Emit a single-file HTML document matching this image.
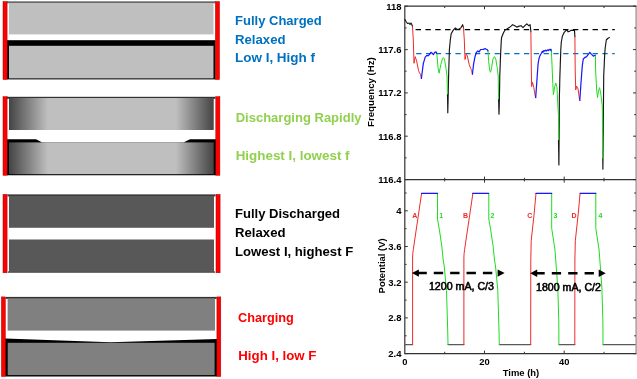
<!DOCTYPE html>
<html><head><meta charset="utf-8"><title>Battery frequency figure</title>
<style>
html,body{margin:0;padding:0;background:#fff}
svg{display:block}
text{font-family:"Liberation Sans",Arial,sans-serif;font-weight:bold}
</style></head><body>
<svg width="637" height="379" viewBox="0 0 637 379">
<defs>
<linearGradient id="g2" x1="0" x2="1" y1="0" y2="0">
<stop offset="0" stop-color="#444"/><stop offset="0.19" stop-color="#bfbfbf"/>
<stop offset="0.815" stop-color="#bfbfbf"/><stop offset="1" stop-color="#444"/>
</linearGradient>
<filter id="soft" x="0" y="0" width="637" height="379" filterUnits="userSpaceOnUse"><feGaussianBlur stdDeviation="0.45"/></filter>
</defs>
<rect width="637" height="379" fill="#fff"/>
<g filter="url(#soft)">

<g id="d1">
<rect x="7" y="1.3" width="208.5" height="2" fill="#6a6a6a"/>
<rect x="9" y="3" width="204.5" height="31.4" fill="#bfbfbf"/>
<rect x="7" y="40.2" width="208.5" height="39.2" fill="#000"/>
<rect x="9" y="45.8" width="204.5" height="32.6" fill="#bfbfbf"/>
<rect x="3" y="1.6" width="4.1" height="78" fill="#f00" stroke="#a00000" stroke-width="0.5"/>
<rect x="215.4" y="1.6" width="4.1" height="78" fill="#f00" stroke="#a00000" stroke-width="0.5"/>
</g>
<g id="d2">
<rect x="7" y="96.8" width="208.5" height="2" fill="#333"/>
<rect x="9" y="98" width="204.7" height="32" fill="url(#g2)"/>
<polygon points="7,139.2 36,139.2 42.3,142.6 183.4,142.6 190,139.2 216,139.2 216,175.2 7,175.2" fill="#000"/>
<rect x="9" y="142.4" width="204.7" height="31.8" fill="url(#g2)"/>
<rect x="3" y="96.7" width="4.1" height="78.6" fill="#f00" stroke="#a00000" stroke-width="0.5"/>
<rect x="215.8" y="96.7" width="4.1" height="78.6" fill="#f00" stroke="#a00000" stroke-width="0.5"/>
</g>
<g id="d3">
<rect x="7.5" y="194.4" width="208" height="2" fill="#333"/>
<rect x="9" y="195.8" width="205" height="32" fill="#595959"/>
<rect x="9" y="239.5" width="205" height="32.2" fill="#595959"/>
<rect x="8" y="271.4" width="207" height="1.3" fill="#333"/>
<rect x="3" y="194.4" width="4.1" height="78.4" fill="#f00" stroke="#a00000" stroke-width="0.5"/>
<rect x="216" y="194.4" width="4.1" height="78.4" fill="#f00" stroke="#a00000" stroke-width="0.5"/>
</g>
<g id="d4">
<rect x="5.7" y="296.9" width="211" height="2" fill="#333"/>
<rect x="7.6" y="298.4" width="207.4" height="32.2" fill="#808080"/>
<polygon points="5.1,338.4 110.4,342.2 217.2,338.9 217.2,376.4 5.1,376.4" fill="#000"/>
<rect x="7.7" y="342.8" width="206.9" height="32.3" fill="#808080"/>
<rect x="1.4" y="296.9" width="3.9" height="79.6" fill="#f00" stroke="#a00000" stroke-width="0.5"/>
<rect x="216.9" y="296.9" width="3.9" height="79.6" fill="#f00" stroke="#a00000" stroke-width="0.5"/>
</g>
<text x="235" y="24.9" font-size="12" fill="#0070c0" textLength="86.8" lengthAdjust="spacingAndGlyphs">Fully Charged</text>
<text x="235" y="43.9" font-size="12" fill="#0070c0" textLength="50.5" lengthAdjust="spacingAndGlyphs">Relaxed</text>
<text x="235" y="62.2" font-size="12" fill="#0070c0" textLength="80" lengthAdjust="spacingAndGlyphs">Low I, High f</text>
<text x="235.7" y="121.8" font-size="12" fill="#92d050" textLength="125.8" lengthAdjust="spacingAndGlyphs">Discharging Rapidly</text>
<text x="235.7" y="159.6" font-size="12" fill="#92d050" textLength="113.9" lengthAdjust="spacingAndGlyphs">Highest I, lowest f</text>
<text x="235" y="218" font-size="12" fill="#000" textLength="105.1" lengthAdjust="spacingAndGlyphs">Fully Discharged</text>
<text x="235" y="237" font-size="12" fill="#000" textLength="50.5" lengthAdjust="spacingAndGlyphs">Relaxed</text>
<text x="235" y="256" font-size="12" fill="#000" textLength="118.2" lengthAdjust="spacingAndGlyphs">Lowest I, highest F</text>
<text x="238" y="322.2" font-size="12" fill="#f00" textLength="55.8" lengthAdjust="spacingAndGlyphs">Charging</text>
<text x="238.3" y="360.2" font-size="12" fill="#f00" textLength="78.1" lengthAdjust="spacingAndGlyphs">High I, low F</text>
<g id="axes" stroke="#333" stroke-width="1.2" fill="none">
<rect x="635.3" y="5.6000000000000005" width="1.7" height="348.6" fill="#ababab" stroke="none"/>
<polyline points="636.3,6.2 404.8,6.2 404.8,353.6 636.3,353.6"/>
<line x1="404.8" x2="636.0" y1="179.6" y2="179.6"/>
</g>
<g id="ticks" stroke="#333" stroke-width="1" fill="none">
<line x1="444.7" x2="444.7" y1="6.2" y2="8.0"/>
<line x1="444.7" x2="444.7" y1="177.79999999999998" y2="181.4"/>
<line x1="444.7" x2="444.7" y1="351.8" y2="353.6"/>
<line x1="484.5" x2="484.5" y1="6.2" y2="9.2"/>
<line x1="484.5" x2="484.5" y1="176.6" y2="182.6"/>
<line x1="484.5" x2="484.5" y1="350.6" y2="353.6"/>
<line x1="524.4" x2="524.4" y1="6.2" y2="8.0"/>
<line x1="524.4" x2="524.4" y1="177.79999999999998" y2="181.4"/>
<line x1="524.4" x2="524.4" y1="351.8" y2="353.6"/>
<line x1="564.2" x2="564.2" y1="6.2" y2="9.2"/>
<line x1="564.2" x2="564.2" y1="176.6" y2="182.6"/>
<line x1="564.2" x2="564.2" y1="350.6" y2="353.6"/>
<line x1="604.0" x2="604.0" y1="6.2" y2="8.0"/>
<line x1="604.0" x2="604.0" y1="177.79999999999998" y2="181.4"/>
<line x1="604.0" x2="604.0" y1="351.8" y2="353.6"/>
<line x1="404.8" x2="407.8" y1="6.2" y2="6.2"/>
<line x1="633.0" x2="636.0" y1="6.2" y2="6.2"/>
<line x1="404.8" x2="406.6" y1="27.9" y2="27.9"/>
<line x1="634.2" x2="636.0" y1="27.9" y2="27.9"/>
<line x1="404.8" x2="407.8" y1="49.6" y2="49.6"/>
<line x1="633.0" x2="636.0" y1="49.6" y2="49.6"/>
<line x1="404.8" x2="406.6" y1="71.2" y2="71.2"/>
<line x1="634.2" x2="636.0" y1="71.2" y2="71.2"/>
<line x1="404.8" x2="407.8" y1="92.9" y2="92.9"/>
<line x1="633.0" x2="636.0" y1="92.9" y2="92.9"/>
<line x1="404.8" x2="406.6" y1="114.6" y2="114.6"/>
<line x1="634.2" x2="636.0" y1="114.6" y2="114.6"/>
<line x1="404.8" x2="407.8" y1="136.2" y2="136.2"/>
<line x1="633.0" x2="636.0" y1="136.2" y2="136.2"/>
<line x1="404.8" x2="406.6" y1="157.9" y2="157.9"/>
<line x1="634.2" x2="636.0" y1="157.9" y2="157.9"/>
<line x1="404.8" x2="407.8" y1="179.6" y2="179.6"/>
<line x1="633.0" x2="636.0" y1="179.6" y2="179.6"/>
<line x1="404.8" x2="406.6" y1="193.0" y2="193.0"/>
<line x1="634.2" x2="636.0" y1="193.0" y2="193.0"/>
<line x1="404.8" x2="407.8" y1="210.8" y2="210.8"/>
<line x1="633.0" x2="636.0" y1="210.8" y2="210.8"/>
<line x1="404.8" x2="406.6" y1="228.7" y2="228.7"/>
<line x1="634.2" x2="636.0" y1="228.7" y2="228.7"/>
<line x1="404.8" x2="407.8" y1="246.5" y2="246.5"/>
<line x1="633.0" x2="636.0" y1="246.5" y2="246.5"/>
<line x1="404.8" x2="406.6" y1="264.4" y2="264.4"/>
<line x1="634.2" x2="636.0" y1="264.4" y2="264.4"/>
<line x1="404.8" x2="407.8" y1="282.2" y2="282.2"/>
<line x1="633.0" x2="636.0" y1="282.2" y2="282.2"/>
<line x1="404.8" x2="406.6" y1="300.1" y2="300.1"/>
<line x1="634.2" x2="636.0" y1="300.1" y2="300.1"/>
<line x1="404.8" x2="407.8" y1="317.9" y2="317.9"/>
<line x1="633.0" x2="636.0" y1="317.9" y2="317.9"/>
<line x1="404.8" x2="406.6" y1="335.8" y2="335.8"/>
<line x1="634.2" x2="636.0" y1="335.8" y2="335.8"/>
<line x1="404.8" x2="407.8" y1="353.6" y2="353.6"/>
<line x1="633.0" x2="636.0" y1="353.6" y2="353.6"/>
</g>
<g font-size="9.5" fill="#000" text-anchor="end">
<text x="401.5" y="9.5">118</text>
<text x="401.5" y="52.9">117.6</text>
<text x="401.5" y="96.2">117.2</text>
<text x="401.5" y="139.6">116.8</text>
<text x="401.5" y="182.9">116.4</text>
<text x="401.5" y="214.1">4</text>
<text x="401.5" y="249.8">3.6</text>
<text x="401.5" y="285.5">3.2</text>
<text x="401.5" y="321.2">2.8</text>
<text x="401.5" y="356.9">2.4</text>
</g>
<g font-size="9.4" fill="#000" text-anchor="middle">
<text x="404.8" y="365.3">0</text>
<text x="484.5" y="365.3">20</text>
<text x="564.2" y="365.3">40</text>
</g>
<text x="502.7" y="376.1" font-size="9.4" fill="#000" textLength="36.5" lengthAdjust="spacingAndGlyphs">Time (h)</text>
<text transform="translate(374.1,126.9) rotate(-90)" font-size="9.6" fill="#000" textLength="69.7" lengthAdjust="spacingAndGlyphs">Frequency (Hz)</text>
<text transform="translate(384.7,293.4) rotate(-90)" font-size="9.4" fill="#000" textLength="55" lengthAdjust="spacingAndGlyphs">Potential (V)</text>
<line x1="415.6" x2="614.8" y1="29.6" y2="29.6" stroke="#000" stroke-width="1.45" stroke-dasharray="5.4 4.43"/>
<line x1="416.2" x2="614.7" y1="53.6" y2="53.6" stroke="#0070c0" stroke-width="1.35" stroke-dasharray="5.3 4.5"/>
<g id="freq">
<polyline points="405.0,19.5 406.0,21.5 407.5,23.5 409.0,23.0 410.0,24.5 411.0,23.0 412.0,25.0 412.5,26.5" fill="none" stroke="#151515" stroke-width="1.15" stroke-linejoin="round" stroke-linecap="round"/>
<polyline points="447.5,94.0 447.8,112.8 448.6,76.0 449.4,49.5 450.3,40.0 451.2,33.7 453.1,30.4 455.4,28.0 456.9,29.5 459.2,29.0 461.1,27.6 462.6,24.7 463.5,27.6" fill="none" stroke="#151515" stroke-width="1.15" stroke-linejoin="round" stroke-linecap="round"/>
<polyline points="498.6,99.0 499.0,114.2 499.4,99.0 499.8,76.0 500.6,54.2 501.2,42.0 501.6,37.5 503.5,32.8 505.0,29.9 506.9,29.0 509.2,27.6 511.1,26.1 512.6,24.7 514.9,25.7 516.8,27.1 519.2,26.1 521.1,25.7 523.0,27.6 524.9,25.7 526.8,23.8 528.7,25.7 530.1,24.7 530.9,31.8" fill="none" stroke="#151515" stroke-width="1.15" stroke-linejoin="round" stroke-linecap="round"/>
<polyline points="558.5,139.7 558.9,164.9 559.4,96.0 559.9,76.0 560.8,49.5 561.3,42.0 562.3,36.6 564.2,32.3 566.1,30.4 567.1,29.9 568.0,31.8 569.5,31.4 570.9,30.4 572.8,30.4 574.5,30.4 574.9,36.6" fill="none" stroke="#151515" stroke-width="1.15" stroke-linejoin="round" stroke-linecap="round"/>
<polyline points="602.7,150.0 602.9,169.2 603.7,76.0 604.7,54.2 605.2,48.0 606.3,40.0 607.7,38.5 609.4,37.6" fill="none" stroke="#151515" stroke-width="1.15" stroke-linejoin="round" stroke-linecap="round"/>
<polyline points="412.5,26.5 413.3,40.0 414.0,63.3 415.2,56.6 416.6,60.9 418.5,70.4 419.5,72.8 420.4,74.2 421.4,78.5" fill="none" stroke="#ee2a2a" stroke-width="1.0" stroke-linejoin="round" stroke-linecap="round"/>
<polyline points="463.5,27.6 464.3,40.0 465.0,59.5 466.2,54.2 467.3,55.7 469.2,64.7 470.7,68.5 471.6,70.4 472.4,74.2" fill="none" stroke="#ee2a2a" stroke-width="1.0" stroke-linejoin="round" stroke-linecap="round"/>
<polyline points="530.9,31.8 531.2,60.0 531.6,86.6 532.5,82.3 533.8,87.5 535.2,96.0 535.7,97.6" fill="none" stroke="#ee2a2a" stroke-width="1.0" stroke-linejoin="round" stroke-linecap="round"/>
<polyline points="574.9,36.6 575.2,70.0 575.7,90.0 576.6,86.1 578.1,89.0 579.5,99.4 579.8,100.4" fill="none" stroke="#ee2a2a" stroke-width="1.0" stroke-linejoin="round" stroke-linecap="round"/>
<polyline points="436.8,53.3 438.0,67.5 439.1,73.2 440.8,64.7 442.3,59.0 443.5,57.6 444.6,59.9 446.0,68.5 447.0,76.0 447.5,94.0" fill="none" stroke="#1fdc1f" stroke-width="1.0" stroke-linejoin="round" stroke-linecap="round"/>
<polyline points="488.0,50.9 488.7,61.8 489.7,70.4 490.6,72.3 491.6,67.5 493.0,59.0 494.4,56.6 495.8,59.0 497.3,68.5 498.2,76.0 498.6,99.0" fill="none" stroke="#1fdc1f" stroke-width="1.0" stroke-linejoin="round" stroke-linecap="round"/>
<polyline points="551.3,50.9 551.8,60.0 552.8,83.7 553.4,94.7 554.7,86.6 555.8,83.0 557.0,87.5 557.5,99.0 558.5,116.0 558.5,139.7" fill="none" stroke="#1fdc1f" stroke-width="1.0" stroke-linejoin="round" stroke-linecap="round"/>
<polyline points="595.4,55.5 595.6,70.0 596.6,89.0 597.5,97.5 598.5,90.9 599.6,87.6 600.9,94.7 602.3,106.0 602.7,158.0" fill="none" stroke="#1fdc1f" stroke-width="1.0" stroke-linejoin="round" stroke-linecap="round"/>
<polyline points="421.4,78.5 423.3,63.7 425.2,57.1 426.6,55.7 428.5,55.7 430.9,52.3 432.3,53.3 433.4,54.7 434.7,52.3 436.1,51.9 436.8,53.3" fill="none" stroke="#1414ff" stroke-width="1.2" stroke-linejoin="round" stroke-linecap="round"/>
<polyline points="472.4,74.2 473.5,64.7 474.9,57.1 476.4,52.3 477.8,50.9 479.2,51.9 480.6,49.5 483.0,49.3 485.4,48.7 487.3,49.7 488.0,50.9" fill="none" stroke="#1414ff" stroke-width="1.2" stroke-linejoin="round" stroke-linecap="round"/>
<polyline points="535.7,97.6 537.5,72.0 538.1,63.7 538.9,59.0 539.6,56.6 540.5,54.8 541.4,53.3 542.3,51.3 543.0,52.3 543.8,50.6 544.7,51.2 545.6,50.2 546.6,50.9 547.5,49.8 548.5,50.5 549.4,49.4 550.4,50.0 550.9,49.2 551.3,50.9" fill="none" stroke="#1414ff" stroke-width="1.2" stroke-linejoin="round" stroke-linecap="round"/>
<polyline points="579.8,100.4 580.9,84.2 582.3,65.6 583.3,59.0 584.7,57.6 586.6,56.6 588.5,54.2 589.8,52.3 591.4,54.2 593.3,56.1 595.2,55.2" fill="none" stroke="#1414ff" stroke-width="1.2" stroke-linejoin="round" stroke-linecap="round"/>
</g>
<g id="pot">
<polyline points="405.0,344.6 412.6,344.6" fill="none" stroke="#5a5a5a" stroke-width="1.2" stroke-linejoin="round" stroke-linecap="round"/>
<polyline points="448.0,344.6 463.9,344.6" fill="none" stroke="#5a5a5a" stroke-width="1.2" stroke-linejoin="round" stroke-linecap="round"/>
<polyline points="499.3,344.6 530.7,344.6" fill="none" stroke="#5a5a5a" stroke-width="1.2" stroke-linejoin="round" stroke-linecap="round"/>
<polyline points="558.9,344.6 574.8,344.6" fill="none" stroke="#5a5a5a" stroke-width="1.2" stroke-linejoin="round" stroke-linecap="round"/>
<polyline points="603.0,344.6 635.2,344.6" fill="none" stroke="#5a5a5a" stroke-width="1.2" stroke-linejoin="round" stroke-linecap="round"/>
<polyline points="412.6,344.6 412.6,258.0 412.8,253.5 413.3,249.5 421.6,193.3" fill="none" stroke="#ee2a2a" stroke-width="1.0" stroke-linejoin="round" stroke-linecap="round"/>
<polyline points="463.9,344.6 463.9,258.0 464.1,253.5 464.6,249.5 472.9,193.3" fill="none" stroke="#ee2a2a" stroke-width="1.0" stroke-linejoin="round" stroke-linecap="round"/>
<polyline points="530.7,344.6 530.8,260.0 531.2,240.8 534.1,214.2 536.0,193.3" fill="none" stroke="#ee2a2a" stroke-width="1.0" stroke-linejoin="round" stroke-linecap="round"/>
<polyline points="574.8,344.6 574.9,260.0 575.3,240.8 578.2,214.2 580.1,193.3" fill="none" stroke="#ee2a2a" stroke-width="1.0" stroke-linejoin="round" stroke-linecap="round"/>
<polyline points="437.5,193.3 437.5,219.0 439.4,230.0 441.8,246.1 443.2,260.0 444.2,266.0 446.5,290.5 447.8,334.0 448.0,344.6" fill="none" stroke="#1fdc1f" stroke-width="1.0" stroke-linejoin="round" stroke-linecap="round"/>
<polyline points="488.8,193.3 488.8,219.0 490.7,230.0 493.1,246.1 494.5,260.0 495.5,266.0 497.8,290.5 499.1,334.0 499.3,344.6" fill="none" stroke="#1fdc1f" stroke-width="1.0" stroke-linejoin="round" stroke-linecap="round"/>
<polyline points="551.7,193.3 551.7,228.4 555.0,250.0 557.8,288.0 558.8,322.0 558.9,344.6" fill="none" stroke="#1fdc1f" stroke-width="1.0" stroke-linejoin="round" stroke-linecap="round"/>
<polyline points="595.8,193.3 595.8,228.4 599.1,250.0 601.9,288.0 602.9,322.0 603.0,344.6" fill="none" stroke="#1fdc1f" stroke-width="1.0" stroke-linejoin="round" stroke-linecap="round"/>
<polyline points="421.6,193.3 437.5,193.3" fill="none" stroke="#1414ff" stroke-width="1.3" stroke-linejoin="round" stroke-linecap="round"/>
<polyline points="472.7,193.3 488.6,193.3" fill="none" stroke="#1414ff" stroke-width="1.3" stroke-linejoin="round" stroke-linecap="round"/>
<polyline points="536.0,193.3 551.7,193.3" fill="none" stroke="#1414ff" stroke-width="1.3" stroke-linejoin="round" stroke-linecap="round"/>
<polyline points="580.2,193.3 595.8,193.3" fill="none" stroke="#1414ff" stroke-width="1.3" stroke-linejoin="round" stroke-linecap="round"/>
</g>
<g font-size="7">
<text x="412.2" y="217.7" fill="#ee2a2a">A</text>
<text x="463" y="217.7" fill="#ee2a2a">B</text>
<text x="527.2" y="217.7" fill="#ee2a2a">C</text>
<text x="571.5" y="217.7" fill="#ee2a2a">D</text>
<text x="439.2" y="217.7" fill="#1fdc1f">1</text>
<text x="490.5" y="217.7" fill="#1fdc1f">2</text>
<text x="553.6" y="217.7" fill="#1fdc1f">3</text>
<text x="598.6" y="217.7" fill="#1fdc1f">4</text>
</g>
<line x1="417.4" x2="498.5" y1="273.1" y2="273.1" stroke="#000" stroke-width="2.5" stroke-dasharray="9.4 6.97"/>
<polygon points="411.9,273.1 418.9,269.40000000000003 418.9,276.8" fill="#000"/>
<polygon points="504.6,273.1 497.6,269.40000000000003 497.6,276.8" fill="#000"/>
<line x1="535.4" x2="599.5" y1="273.3" y2="273.3" stroke="#000" stroke-width="2.5" stroke-dasharray="9.3 7.1"/>
<polygon points="530.2,273.3 537.2,269.6 537.2,277.0" fill="#000"/>
<polygon points="605.7,273.3 598.7,269.6 598.7,277.0" fill="#000"/>
<text x="428.9" y="290.1" font-size="10.2" style="font-weight:normal" stroke="#000" stroke-width="0.55" fill="#000" textLength="65.1" lengthAdjust="spacingAndGlyphs">1200 mA, C/3</text>
<text x="536" y="291.4" font-size="10.2" style="font-weight:normal" stroke="#000" stroke-width="0.55" fill="#000" textLength="64.9" lengthAdjust="spacingAndGlyphs">1800 mA, C/2</text>
</g></svg></body></html>
